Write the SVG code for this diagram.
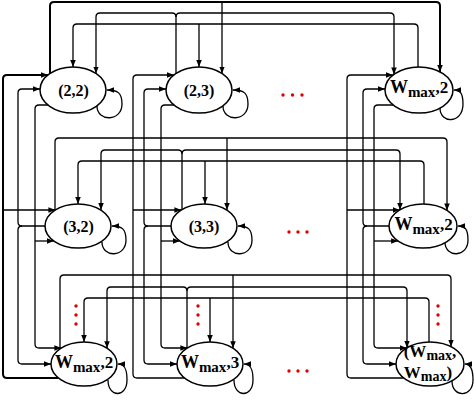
<svg xmlns="http://www.w3.org/2000/svg" width="474" height="411" viewBox="0 0 474 411">
<style>
.n{fill:#fff;stroke:#000;stroke-width:1.5}
.c path{fill:none;stroke:#000;stroke-width:1.3}
.c path.t{stroke-width:2}
.a{marker-end:url(#ah)}
.l{font-family:"Liberation Serif","Times New Roman",serif;font-weight:bold;fill:#000;text-anchor:middle}
.d circle{fill:#e00000}
</style>
<defs>
<marker id="ah" markerUnits="userSpaceOnUse" markerWidth="8" markerHeight="6" refX="7" refY="2.75" orient="auto">
<path d="M0,0 L7,2.75 L0,5.5 z" fill="#000"/>
</marker>
</defs>
<g id="connectors" class="c">
<!-- row 1 top -->
<path class="t a" d="M50,73.5 V6 Q50,2 54,2 H436 Q440,2 440,6 V72"/>
<path class="a" d="M222,2 V73.5"/>
<path class="a" d="M176,73.5 V17 Q176,13 172,13 H100 Q96,13 96,17 V73.5"/>
<path class="a" d="M176,17 Q176,13 180,13 H390 Q394,13 394,17 V74.4"/>
<path class="a" d="M418,67 V28 Q418,24 414,24 H77 Q73,24 73,28 V67"/>
<path class="a" d="M199,24 V67"/>
<!-- row 2 top -->
<path class="a" d="M55,210 V142 Q55,138 59,138 H443 Q447,138 447,142 V210.4"/>
<path class="a" d="M227,138 V210"/>
<path class="a" d="M182,209.6 V154 Q182,150 178,150 H105 Q101,150 101,154 V210"/>
<path class="a" d="M182,154 Q182,150 186,150 H396 Q400,150 400,154 V210"/>
<path class="a" d="M424,204 V165 Q424,161 420,161 H82 Q78,161 78,165 V204"/>
<path class="a" d="M205,161 V204"/>
<!-- row 3 top -->
<path class="a" d="M60,348.9 V279 Q60,275 64,275 H447 Q451,275 451,279 V346.7"/>
<path class="a" d="M233,275 V348.2"/>
<path class="a" d="M187,348.2 V291 Q187,287 183,287 H111 Q107,287 107,291 V348.2"/>
<path class="a" d="M187,291 Q187,287 191,287 H403 Q407,287 407,291 V347.8"/>
<path class="a" d="M429,342 V302 Q429,298 425,298 H88 Q84,298 84,302 V342"/>
<path class="a" d="M210,298 V342"/>
<!-- column 1 left -->
<path class="t a" d="M58.5,378 H7 Q3,378 3,374 V79 Q3,75 7,75 H48"/>
<path class="a" d="M3,210 H55.4"/>
<path class="a" d="M45,226 H22 Q18,226 18,222 V93 Q18,89 22,89 H40"/>
<path class="a" d="M22,226 Q18,226 18,230 V360 Q18,364 22,364 H51"/>
<path class="a" d="M48,105 H39 Q35,105 35,109 V344 Q35,348 39,348 H61.4"/>
<path class="a" d="M35,241 H53.9"/>
<!-- column 2 left -->
<path class="a" d="M184.5,378 H137 Q133,378 133,374 V79 Q133,75 137,75 H174"/>
<path class="a" d="M133,210 H181.4"/>
<path class="a" d="M171,226 H148 Q144,226 144,222 V93 Q144,89 148,89 H166"/>
<path class="a" d="M148,226 Q144,226 144,230 V360 Q144,364 148,364 H177"/>
<path class="a" d="M174,105 H165 Q161,105 161,109 V344 Q161,348 165,348 H187.4"/>
<path class="a" d="M161,241 H179.9"/>
<!-- column 3 left -->
<path class="a" d="M403.8,378 H351 Q347,378 347,374 V79 Q347,75 351,75 H393"/>
<path class="a" d="M347,210 H399.7"/>
<path class="a" d="M389,226 H367 Q363,226 363,222 V93 Q363,89 367,89 H385"/>
<path class="a" d="M367,226 Q363,226 363,230 V360 Q363,364 367,364 H396"/>
<path class="a" d="M393,105 H378 Q374,105 374,109 V344 Q374,348 378,348 H406.7"/>
<path class="a" d="M374,241 H398.1"/>
<!-- self loops -->
<path class="a" d="M97,106 C97,122 122,122 122,104 C122,93 118,90 107,90"/>
<path class="a" d="M223,106 C223,122 248,122 248,104 C248,93 244,90 233,90"/>
<path class="a" d="M440,108 C440,124 463,124 463,104 C463,93 460,90 454,90"/>
<path class="a" d="M102,242 C102,258 126,258 126,240 C126,229 122,226 112,226"/>
<path class="a" d="M228,242 C228,258 252,258 252,240 C252,229 248,226 238,226"/>
<path class="a" d="M445,242 C445,258 468,258 468,240 C468,229 465,226 458,226"/>
<path class="a" d="M108,380 C108,398 127,398 127,380 C127,368 124,364 118,364"/>
<path class="a" d="M234,380 C234,398 253,398 253,380 C253,368 250,364 244,364"/>
<path class="a" d="M452,381 C452,398 473,398 473,380 C473,368 470,364 465,364"/>
</g>
<g id="n22"><ellipse class="n" cx="73" cy="90" rx="33" ry="23"/><text class="l" x="73.5" y="96" font-size="16">(2,2)</text></g>
<g id="n23"><ellipse class="n" cx="199" cy="90" rx="33" ry="23"/><text class="l" x="199" y="96" font-size="16">(2,3)</text></g>
<g id="n1w"><ellipse class="n" cx="419" cy="90" rx="34" ry="23"/><text class="l" x="419" y="93"><tspan font-size="18">W</tspan><tspan font-size="15" dy="4">max</tspan><tspan font-size="17" dy="-4">,2</tspan></text></g>
<g id="n32"><ellipse class="n" cx="78" cy="226" rx="33" ry="22"/><text class="l" x="78.5" y="232" font-size="16">(3,2)</text></g>
<g id="n33"><ellipse class="n" cx="204" cy="226" rx="33" ry="22"/><text class="l" x="204" y="232" font-size="16">(3,3)</text></g>
<g id="n2w"><ellipse class="n" cx="423" cy="226" rx="34" ry="22"/><text class="l" x="423.5" y="230"><tspan font-size="18">W</tspan><tspan font-size="15" dy="4">max</tspan><tspan font-size="17" dy="-4">,2</tspan></text></g>
<g id="nw2"><ellipse class="n" cx="84" cy="364" rx="33" ry="22"/><text class="l" x="84" y="368"><tspan font-size="18">W</tspan><tspan font-size="15" dy="4">max</tspan><tspan font-size="17" dy="-4">,2</tspan></text></g>
<g id="nw3"><ellipse class="n" cx="210" cy="364" rx="33" ry="22"/><text class="l" x="210" y="368"><tspan font-size="18">W</tspan><tspan font-size="15" dy="4">max</tspan><tspan font-size="17" dy="-4">,3</tspan></text></g>
<g id="nww"><ellipse class="n" cx="430" cy="364" rx="34" ry="22"/><text class="l" x="430" y="357"><tspan font-size="17">(W</tspan><tspan font-size="14" dy="3">max</tspan><tspan font-size="17" dy="-3">,</tspan></text><text class="l" x="428" y="378"><tspan font-size="17">W</tspan><tspan font-size="14" dy="3">max</tspan><tspan font-size="17" dy="-3">)</tspan></text></g>
<g id="dots" class="d">
<circle cx="283" cy="95" r="1.7"/><circle cx="292.5" cy="95" r="1.7"/><circle cx="302" cy="95" r="1.7"/>
<circle cx="289" cy="232" r="1.7"/><circle cx="298" cy="232" r="1.7"/><circle cx="307" cy="232" r="1.7"/>
<circle cx="289" cy="371" r="1.7"/><circle cx="298" cy="371" r="1.7"/><circle cx="307" cy="371" r="1.7"/>
<circle cx="76" cy="306" r="1.7"/><circle cx="76" cy="315" r="1.7"/><circle cx="76" cy="324" r="1.7"/>
<circle cx="198" cy="306" r="1.7"/><circle cx="198" cy="315" r="1.7"/><circle cx="198" cy="324" r="1.7"/>
<circle cx="438" cy="306" r="1.7"/><circle cx="438" cy="315" r="1.7"/><circle cx="438" cy="324" r="1.7"/>
</g>
</svg>
